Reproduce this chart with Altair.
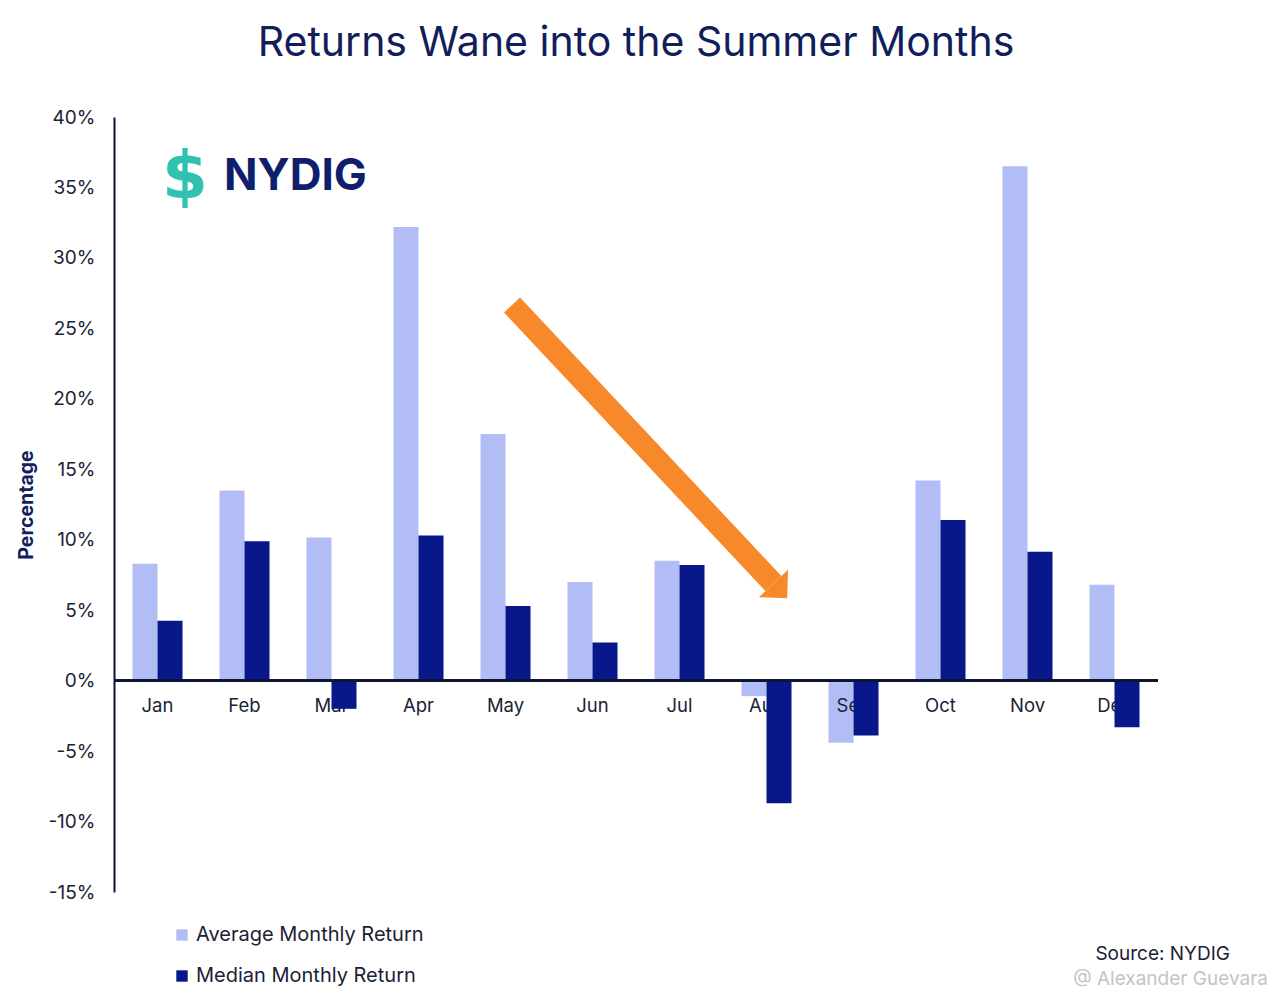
import altair as alt
import pandas as pd

# ---- data ----
months = ["Jan", "Feb", "Mar", "Apr", "May", "Jun", "Jul", "Aug", "Sep", "Oct", "Nov", "Dec"]
average_return = [8.3, 13.5, 10.15, 32.2, 17.5, 7.0, 8.5, -1.1, -4.4, 14.2, 36.5, 6.8]
median_return = [4.25, 9.9, -2.0, 10.3, 5.3, 2.7, 8.2, -8.7, -3.9, 11.4, 9.15, -3.3]
series_names = ["Average Monthly Return", "Median Monthly Return"]
series_colors = ["#b3bdf5", "#08178a"]
y_ticks = [-15, -10, -5, 0, 5, 10, 15, 20, 25, 30, 35, 40]

# arrow annotation anchors (month-index position, percent)
arrow_pos = [4.575, 7.58]
arrow_pct = [26.66, 6.89]

avg_df = pd.DataFrame({"month": months, "series": series_names[0], "value": average_return})
med_df = pd.DataFrame({"month": months, "series": series_names[1], "value": median_return})
labels_df = pd.DataFrame({"month": months, "value": [0] * len(months)})
arrow_df = pd.DataFrame({"pos": arrow_pos, "value": arrow_pct})
head_df = pd.DataFrame({"pos": arrow_pos[-1:], "value": arrow_pct[-1:]})

FONT = "Inter"
TEXT = "#1b2235"
NAVY = "#111e5a"
ORANGE = "#f7892a"

xscale = alt.Scale(domain=months, paddingInner=0.425, paddingOuter=0.2125)
yscale = alt.Scale(domain=[-15, 40], nice=False, zero=False)
xenc = alt.X("month:N", sort=months, scale=xscale, axis=None)
offenc = alt.XOffset("series:N", scale=alt.Scale(domain=series_names))

yaxis = alt.Axis(
    values=y_ticks,
    labelExpr="datum.value + '%'",
    ticks=False,
    grid=False,
    domainColor="#0d1530",
    domainWidth=2,
    labelPadding=19,
    labelFontSize=19,
    labelFont=FONT,
    labelColor=TEXT,
    title="Percentage",
    titleFont=FONT,
    titleFontSize=19.5,
    titleFontWeight="bold",
    titleColor="#13205e",
    titlePadding=11,
)

color_enc = alt.Color(
    "series:N",
    scale=alt.Scale(domain=series_names, range=series_colors),
    legend=alt.Legend(
        title=None,
        orient="none",
        legendX=58,
        legendY=808,
        symbolType="square",
        symbolSize=130,
        symbolStrokeWidth=0,
        labelFontSize=20,
        labelFont=FONT,
        labelColor=TEXT,
        labelLimit=400,
        rowPadding=21,
        labelOffset=4,
        padding=0,
    ),
)

avg_bars = alt.Chart(avg_df).mark_bar().encode(
    x=xenc, xOffset=offenc,
    y=alt.Y("value:Q", scale=yscale, axis=yaxis),
    color=color_enc,
)

labels = alt.Chart(labels_df).mark_text(
    dy=25, fontSize=18.5, font=FONT, color=TEXT
).encode(
    x=xenc,
    y=alt.Y("value:Q", scale=yscale),
    text="month:N",
)

med_bars = alt.Chart(med_df).mark_bar().encode(
    x=xenc, xOffset=offenc,
    y=alt.Y("value:Q", scale=yscale),
    color=color_enc,
)

zero_rule = alt.Chart(labels_df).mark_rule(color="#0d1530", strokeWidth=2).encode(
    y=alt.datum(0)
)

bar_group = alt.layer(avg_bars, labels, med_bars, zero_rule)

ax = alt.X("pos:Q", scale=alt.Scale(domain=[0, 12], nice=False, zero=False), axis=None)
arrow_line = alt.Chart(arrow_df).mark_line(
    color=ORANGE, strokeWidth=22, strokeCap="butt"
).encode(x=ax, y=alt.Y("value:Q", scale=yscale))
arrow_head = alt.Chart(head_df).mark_point(
    shape="M-1,0L1,0L0,1Z", size=1600, filled=True, color=ORANGE,
    opacity=1, strokeWidth=0, angle=316.8
).encode(x=ax, y=alt.Y("value:Q", scale=yscale))
arrow_group = alt.layer(arrow_line, arrow_head)

txt_df = pd.DataFrame({"t": ["x"]})
logo_icon = alt.Chart(txt_df).mark_text(
    text="$", font="DejaVu Sans", fontWeight="bold", fontSize=66,
    color="#30c2ae", align="center", baseline="middle"
).encode(x=alt.value(71), y=alt.value(61))
logo_word = alt.Chart(txt_df).mark_text(
    text="NYDIG", font=FONT, fontWeight="bold", fontSize=44,
    color="#0f1f6b", align="left", baseline="middle"
).encode(x=alt.value(110), y=alt.value(60))
source = alt.Chart(txt_df).mark_text(
    text="Source: NYDIG", font=FONT, fontSize=19, color=TEXT,
    align="right", baseline="middle"
).encode(x=alt.value(1116), y=alt.value(837))
watermark = alt.Chart(txt_df).mark_text(
    text="@ Alexander Guevara", font=FONT, fontSize=19, color="#c4c4c4",
    align="right", baseline="middle"
).encode(x=alt.value(1154), y=alt.value(862))

chart = alt.layer(
    bar_group, arrow_group, logo_icon, logo_word, source, watermark
).resolve_scale(x="independent").properties(
    width=1044,
    height=775,
    background="white",
    autosize=alt.AutoSizeParams(type="none"),
    padding={"left": 106, "top": 109, "right": 110, "bottom": 98},
    title=alt.Title(
        "Returns Wane into the Summer Months",
        font=FONT,
        fontSize=41,
        fontWeight="normal",
        color=NAVY,
        anchor="middle",
        frame="group",
        offset=43,
    ),
).configure_view(stroke=None)

chart.save("out.html", embed_options={"renderer": "svg", "actions": False})
